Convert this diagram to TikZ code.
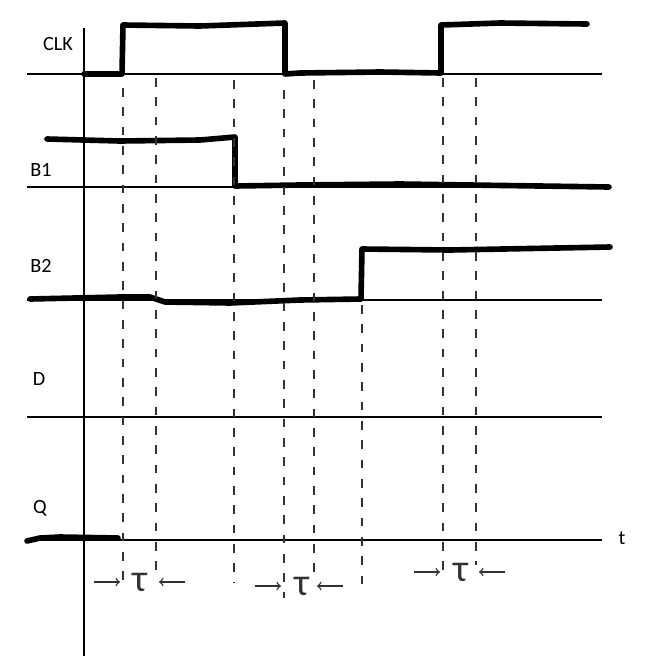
\documentclass[tikz,border=0pt]{standalone}
\usepackage{fontspec}
\setmainfont{Carlito}
\usepackage{tikz}
\definecolor{pencil}{HTML}{333333}

\begin{document}
\begin{tikzpicture}[x=0.02cm, y=-0.02cm,
	axisline/.style={line width=1.1pt, color=black},
	sig/.style={line width=3.2pt, color=black, line cap=round, line join=round},
	guide/.style={line width=0.9pt, color=pencil, dash pattern=on 5pt off 6pt},
	tauarrow/.style={line width=0.8pt, color=pencil, ->},
	lbl/.style={font=\fontsize{11.5}{14}\selectfont, inner sep=0pt},
	taulbl/.style={font=\fontsize{22}{24}\selectfont, color=pencil, inner sep=0pt}]
			%%%%% START %%%%%
			\useasboundingbox (0,0) rectangle (664,664);
			
			% axes
			\draw[axisline] (84,28) -- (84,656);
			\draw[axisline] (27,74) -- (602,74);
			\draw[axisline] (27,187) -- (602,187);
			\draw[axisline] (27,300) -- (602,300);
			\draw[axisline] (27,417) -- (602,417);
			\draw[axisline] (27,540) -- (602,540);
			
			\node[lbl] (clk) at (58,44) {CLK};
			\node[lbl] (b1) at (41,170) {B1};
			\node[lbl] (b2) at (41,266) {B2};
			\node[lbl] (d) at (39,379) {D};
			\node[lbl] (q) at (40,508) {Q};
			\node[lbl] (t) at (622,538) {t};
			
			% signals
			\draw[sig] (84,74) -- (122,74) -- (123,25) -- (200,26) -- (285,23)
				-- (285,74) -- (300,73) -- (380,72) -- (441,73)
				-- (441,25) -- (500,23) -- (587,24);
			\draw[sig] (47,139) -- (120,141) -- (200,140) -- (235,137)
				-- (235,186) -- (300,185) -- (400,184) -- (609,187);
			\draw[sig] (30,299) -- (120,297) -- (150,297) -- (165,302) -- (230,303)
				-- (300,300) -- (361,299) -- (362,249) -- (450,250) -- (610,247);
			\draw[sig] (27,541) -- (40,538) -- (60,537) -- (118,538);
			
			% guide lines
			\foreach \x/\a/\b in {123/88/580, 156/78/573, 234/80/583, 284/90/598,
				314/80/577, 362/305/592, 443/78/577, 476/78/565}
				\draw[guide] (\x,\a) -- (\x,\b);
			
			% delays
			\foreach \i/\l/\m/\r/\y in {1/123/140/156/582, 2/284/302/314/586, 3/443/461/476/572} {
				\node[taulbl] (tau\i) at (\m,\y) {τ};
				\coordinate (la\i) at (\l-29,\y);
				\coordinate (lb\i) at (\l-3,\y);
				\coordinate (ra\i) at (\r+29,\y);
				\coordinate (rb\i) at (\r+3,\y);
				\draw[tauarrow] (la\i) -- (lb\i);
				\draw[tauarrow] (ra\i) -- (rb\i);
			}
			%%%%% END %%%%%
\end{tikzpicture}
\end{document}
